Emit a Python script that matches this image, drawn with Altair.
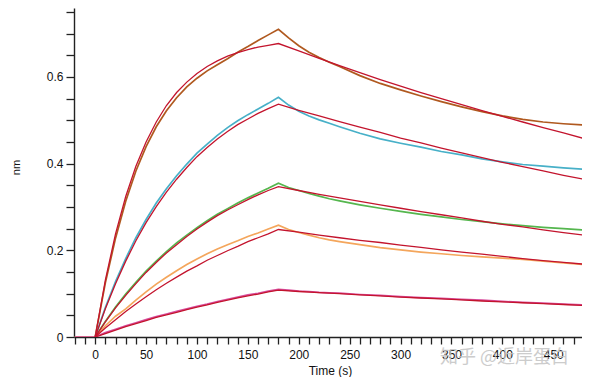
import altair as alt
import pandas as pd

# ---- data ----
T_DATA = [-20, -10, 0, 10, 20, 30, 40, 50, 60, 70, 80, 90, 100, 110, 120, 130, 140, 150, 160, 170, 180,
          190, 200, 210, 220, 230, 240, 260, 280, 300, 320, 340, 360, 380, 400, 420, 440, 460, 480]

S1_DATA = [0, 0, 0, 0.125, 0.228, 0.313, 0.383, 0.439, 0.485, 0.522, 0.552, 0.577, 0.597, 0.614, 0.628, 0.642, 0.657, 0.670, 0.684, 0.697, 0.710,
           0.690, 0.672, 0.657, 0.645, 0.634, 0.624, 0.603, 0.585, 0.570, 0.556, 0.543, 0.531, 0.520, 0.510, 0.502, 0.496, 0.492, 0.489]
S2_DATA = [0, 0, 0, 0.068, 0.128, 0.181, 0.229, 0.271, 0.309, 0.342, 0.372, 0.399, 0.424, 0.445, 0.465, 0.483, 0.499, 0.513, 0.526, 0.539, 0.553,
           0.535, 0.521, 0.510, 0.501, 0.493, 0.485, 0.470, 0.457, 0.447, 0.438, 0.428, 0.420, 0.411, 0.404, 0.398, 0.394, 0.390, 0.387]
S3_DATA = [0, 0, 0, 0.036, 0.069, 0.099, 0.126, 0.152, 0.175, 0.197, 0.217, 0.235, 0.252, 0.268, 0.283, 0.296, 0.309, 0.321, 0.332, 0.343, 0.355,
           0.345, 0.338, 0.331, 0.325, 0.319, 0.314, 0.305, 0.297, 0.290, 0.283, 0.277, 0.271, 0.266, 0.261, 0.257, 0.253, 0.250, 0.247]
S4_DATA = [0, 0, 0, 0.026, 0.048, 0.065, 0.085, 0.104, 0.122, 0.138, 0.153, 0.167, 0.180, 0.192, 0.203, 0.213, 0.222, 0.232, 0.240, 0.249, 0.258,
           0.248, 0.241, 0.235, 0.229, 0.224, 0.220, 0.213, 0.206, 0.201, 0.196, 0.192, 0.188, 0.185, 0.182, 0.179, 0.175, 0.171, 0.167]
S5_DATA = [0, 0, 0, 0.010, 0.018, 0.026, 0.033, 0.040, 0.047, 0.053, 0.059, 0.065, 0.071, 0.076, 0.082, 0.087, 0.092, 0.097, 0.101, 0.106, 0.110,
           0.108, 0.106, 0.105, 0.103, 0.102, 0.101, 0.098, 0.096, 0.093, 0.091, 0.089, 0.087, 0.085, 0.082, 0.080, 0.078, 0.076, 0.074]

T_FIT = [0, 10, 20, 30, 40, 50, 60, 70, 80, 90, 100, 110, 120, 130, 140, 150, 160, 170, 180,
         200, 220, 240, 260, 280, 300, 320, 340, 360, 380, 400, 420, 440, 460, 480]
S1_FIT = [0, 0.131, 0.238, 0.324, 0.394, 0.450, 0.496, 0.534, 0.564, 0.588, 0.608, 0.624, 0.637, 0.648, 0.656, 0.663, 0.669, 0.673, 0.677,
          0.660, 0.643, 0.626, 0.610, 0.594, 0.579, 0.564, 0.550, 0.536, 0.522, 0.509, 0.496, 0.483, 0.471, 0.458]
S2_FIT = [0, 0.065, 0.123, 0.175, 0.222, 0.264, 0.301, 0.334, 0.364, 0.391, 0.416, 0.437, 0.457, 0.474, 0.490, 0.503, 0.516, 0.527, 0.537,
          0.523, 0.510, 0.497, 0.484, 0.472, 0.459, 0.448, 0.436, 0.425, 0.414, 0.403, 0.393, 0.383, 0.373, 0.364]
S3_FIT = [0, 0.035, 0.067, 0.096, 0.123, 0.149, 0.172, 0.194, 0.213, 0.232, 0.249, 0.265, 0.280, 0.293, 0.305, 0.317, 0.328, 0.338, 0.347,
          0.338, 0.329, 0.321, 0.313, 0.305, 0.297, 0.289, 0.282, 0.275, 0.267, 0.260, 0.254, 0.247, 0.241, 0.235]
S4_FIT = [0, 0.021, 0.040, 0.059, 0.076, 0.093, 0.109, 0.124, 0.138, 0.152, 0.164, 0.177, 0.188, 0.199, 0.209, 0.220, 0.229, 0.238, 0.248,
          0.242, 0.235, 0.229, 0.223, 0.218, 0.212, 0.207, 0.201, 0.196, 0.191, 0.186, 0.181, 0.176, 0.172, 0.168]
S5_FIT = [0, 0.008, 0.016, 0.024, 0.031, 0.038, 0.045, 0.051, 0.057, 0.063, 0.069, 0.074, 0.080, 0.085, 0.090, 0.095, 0.099, 0.104, 0.108,
          0.105, 0.1025, 0.100, 0.097, 0.095, 0.092, 0.090, 0.088, 0.0855, 0.083, 0.081, 0.079, 0.077, 0.075, 0.073]

SERIES = ["s1", "s2", "s3", "s4", "s5"]
COLORS = ["#b0591f", "#47b0c8", "#55b64e", "#f4a65c", "#d84c9c"]
FIT_COLOR = "#c3142d"

X_TICKS = list(range(-20, 480, 10))
Y_TICKS = [i / 100 for i in range(0, 80, 5)]

WATERMARK = "知乎 @近岸蛋白"

# ---- build tables ----
data_rows = []
for name, vals in zip(SERIES, [S1_DATA, S2_DATA, S3_DATA, S4_DATA, S5_DATA]):
    for t, v in zip(T_DATA, vals):
        data_rows.append({"t": t, "v": v, "series": name})
fit_rows = []
for name, vals in zip(SERIES, [S1_FIT, S2_FIT, S3_FIT, S4_FIT, S5_FIT]):
    for t, v in zip(T_FIT, vals):
        fit_rows.append({"t": t, "v": v, "series": name})
df_data = pd.DataFrame(data_rows)
df_fit = pd.DataFrame(fit_rows)

x_enc = alt.X(
    "t:Q",
    scale=alt.Scale(domain=[-20.8, 478.2], nice=False, zero=False),
    axis=alt.Axis(
        values=X_TICKS, tickCount=200,
        labelExpr="(datum.value >= 0 && datum.value % 50 == 0) ? format(datum.value, 'd') : ''",
        title="Time (s)",
        titleX=256, titleY=33, titleAlign="center", titleBaseline="middle",
        tickSize=7, labelPadding=5,
    ),
)
y_enc = alt.Y(
    "v:Q",
    scale=alt.Scale(domain=[0, 0.759], nice=False, zero=False),
    axis=alt.Axis(
        values=Y_TICKS, tickCount=200,
        labelExpr="round(datum.value * 100) % 20 == 0 ? format(datum.value, '~g') : ''",
        title="nm",
        titleX=-58, titleY=159, titleAngle=270, titleAlign="center", titleBaseline="middle",
        titleFontSize=11,
        tickSize=8, labelPadding=3,
    ),
)

data_layer = alt.Chart(df_data).mark_line(strokeWidth=1.7, clip=True).encode(
    x=x_enc,
    y=y_enc,
    color=alt.Color("series:N", scale=alt.Scale(domain=SERIES, range=COLORS), legend=None),
    order="t:Q",
)

fit_layer = alt.Chart(df_fit).mark_line(strokeWidth=1.3, color=FIT_COLOR, clip=True).encode(
    x="t:Q",
    y="v:Q",
    detail="series:N",
    order="t:Q",
)

wm = alt.Chart(pd.DataFrame({"label": [WATERMARK]})).mark_text(
    font="Noto Sans CJK SC", fontSize=18, color="#c4c4c4", opacity=0.85,
    align="left", baseline="middle",
).encode(
    x=alt.value(366), y=alt.value(350), text="label:N",
)

chart = alt.layer(data_layer, fit_layer, wm).properties(
    width=508, height=329,
    padding={"left": 66, "top": 0, "right": 0, "bottom": 40},
    autosize=alt.AutoSizeParams(type="none"),
).configure_view(stroke=None).configure_axis(
    grid=False,
    domainColor="#222222", domainWidth=1.4,
    tickColor="#222222", tickWidth=1.3,
    labelFont="Liberation Sans", labelFontSize=12, labelColor="#111111",
    titleFont="Liberation Sans", titleFontSize=12, titleFontWeight="normal", titleColor="#111111",
    labelOverlap=False, labelFlush=False,
)

chart.save("out.html", embed_options={"renderer": "svg", "actions": False})
